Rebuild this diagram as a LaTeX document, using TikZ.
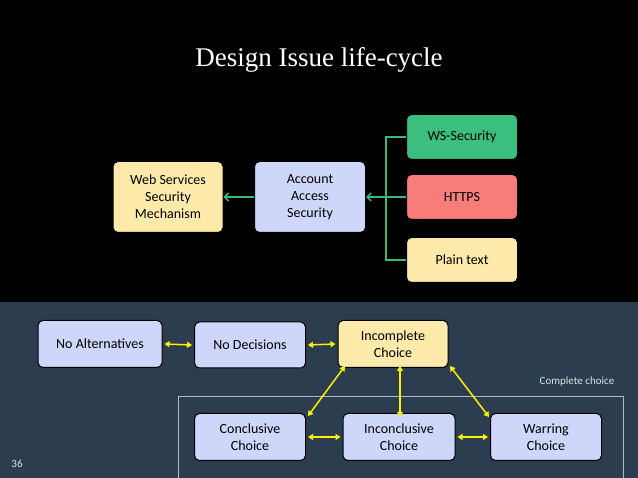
\documentclass[tikz,border=0pt]{standalone}
\usepackage{fontspec}
\setmainfont{Carlito}
\newfontfamily\titlefont{Liberation Serif}
\usetikzlibrary{arrows.meta}
\definecolor{bgtop}{HTML}{000000}
\definecolor{bgbot}{HTML}{2C3D50}
\definecolor{gline}{HTML}{3DB878}
\definecolor{ywarn}{HTML}{FFF200}
\definecolor{cyel}{HTML}{FDE9A9}
\definecolor{cblue}{HTML}{CED6FA}
\definecolor{cgreen}{HTML}{3CBF7E}
\definecolor{cred}{HTML}{F67D7A}
\begin{document}
\begin{tikzpicture}[x=1pt,y=-1pt,
  box/.style={draw=black,line width=1pt,rounded corners=5pt,align=center,font=\fontsize{14}{17}\selectfont,inner sep=0pt,text=black},
  ga/.style={draw=gline,line width=1.5pt,-{Straight Barb[length=4pt,width=8pt]}},
  ya/.style={draw=ywarn,line width=1.5pt,{Triangle[length=5pt,width=6pt]}-{Triangle[length=5pt,width=6pt]}}]
\fill[bgtop] (0,0) rectangle (638,302);
\fill[bgbot] (0,302) rectangle (638,478);
\useasboundingbox (0,0) rectangle (638,478);
\node[font=\titlefont\fontsize{27}{30}\selectfont,text=white] (title) at (319,60) {Design Issue life-cycle};
\node[box,fill=cyel,minimum width=110pt,minimum height=71pt] (ws) at (168,197) {Web Services\\Security\\Mechanism};
\node[box,fill=cblue,minimum width=111pt,minimum height=71pt] (acc) at (310,197) {Account\\Access\\Security};
\node[box,fill=cgreen,minimum width=111pt,minimum height=45pt] (wss) at (462,137) {WS-Security};
\node[box,fill=cred,minimum width=111pt,minimum height=45pt] (https) at (462,197) {HTTPS};
\node[box,fill=cyel,minimum width=111pt,minimum height=45pt] (plain) at (462,260) {Plain text};
\coordinate (br) at (386,197);
\draw[gline,line width=1.5pt] (wss.west) -- (386,137) -- (386,260) -- (plain.west);
\draw[ga] (https.west) -- (acc.east);
\draw[ga] (acc.west) -- (ws.east);
\draw[draw={rgb,255:red,170;green,185;blue,205},line width=1pt] (178,479) -- (178,397) -- (623,397) -- (623,479);
\node[text={rgb,255:red,220;green,225;blue,235},font=\fontsize{11}{13}\selectfont] (cc) at (577,382) {Complete choice};
\node[text={rgb,255:red,220;green,225;blue,235},font=\fontsize{11}{13}\selectfont] (num) at (17,464) {36};
\node[box,fill=cblue,minimum width=124pt,minimum height=47pt] (na) at (100,344) {No Alternatives};
\node[box,fill=cblue,minimum width=111pt,minimum height=46pt] (nd) at (250,345) {No Decisions};
\node[box,fill=cyel,minimum width=110pt,minimum height=47pt] (inc) at (393,344) {Incomplete\\Choice};
\node[box,fill=cblue,minimum width=111pt,minimum height=47pt] (con) at (250,437) {Conclusive\\Choice};
\node[box,fill=cblue,minimum width=112pt,minimum height=47pt] (icon) at (399,437) {Inconclusive\\Choice};
\node[box,fill=cblue,minimum width=111pt,minimum height=47pt] (war) at (546,437) {Warring\\Choice};
\draw[ya] ([xshift=2pt]na.east) -- ([xshift=-2pt]nd.west);
\draw[ya] ([xshift=2pt]nd.east) -- ([xshift=-2pt]inc.west);
\draw[ya] ([xshift=2pt]con.east) -- ([xshift=-2pt]icon.west);
\draw[ya] ([xshift=2pt]icon.east) -- ([xshift=-2pt]war.west);
\draw[ya] ([shift={(-48pt,2pt)}]inc.south) -- ([shift={(58pt,-3pt)}]con.north);
\draw[ya] ([shift={(7pt,2pt)}]inc.south) -- ([shift={(1pt,-4pt)}]icon.north);
\draw[ya] ([shift={(57pt,2pt)}]inc.south) -- ([shift={(-57pt,-4pt)}]war.north);
\end{tikzpicture}
\end{document}
